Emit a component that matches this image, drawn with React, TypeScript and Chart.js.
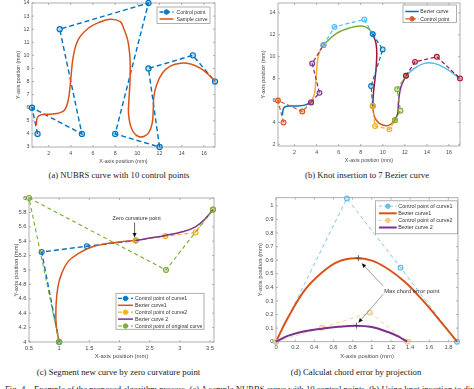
import React, { useEffect, useRef } from 'react';
import { Chart, registerables } from 'chart.js';
Chart.register(...registerables);

type P = [number, number];

// ---------- (a) NURBS curve ----------
const aCtrl: P[] = [[1, 4], [0.5, 6], [5, 4], [3, 12], [11, 14], [8, 4], [12, 3], [11, 9], [15, 10], [17, 8]];
const aCurve: P[] = [[0.9, 4.68], [0.93, 5.1], [1.08, 5.36], [1.5, 5.48], [2.1, 5.5], [2.85, 5.58], [3.45, 5.83], [3.77, 6.6], [3.93, 7.6], [4.02, 8.4], [4.22, 9.9], [4.67, 11.2], [5.57, 12.07], [6.5, 12.5], [7.55, 12.75], [8.45, 12.57], [8.76, 12.07], [9.12, 11.2], [9.3, 10.16], [9.36, 9.14], [9.33, 7.87], [9.24, 6.6], [9.2, 5.58], [9.36, 4.69], [9.67, 4.1], [10.1, 3.8], [10.58, 3.8], [11.03, 4.1], [11.34, 4.82], [11.43, 5.83], [11.49, 6.85], [11.73, 7.74], [12.25, 8.63], [13.0, 9.19], [13.9, 9.4], [14.8, 9.34], [15.7, 9.01], [16.45, 8.5], [17, 8.05]];
const aXTicks = [2, 4, 6, 8, 10, 12, 14, 16];
const aXLabels = ['2', '4', '6', '8', '10', '12', '14', '16'];
const aYTicks = [3, 4, 5, 6, 7, 8, 9, 10, 11, 12, 13, 14];
const aYLabels = ['3', '4', '5', '6', '7', '8', '9', '10', '11', '12', '13', '14'];

// ---------- (b) 7 Bezier segments ----------
const bCtrl1: P[] = [[1, 4], [0.5, 6], [2.7, 5], [3.5, 5.83]];
const bCurve1: P[] = [[0.9, 4.67], [0.95, 5.1], [1.07, 5.38], [1.4, 5.49], [2.15, 5.5], [2.9, 5.58], [3.5, 5.83]];
const bCtrl2: P[] = [[3.5, 5.83], [4.26, 6.7], [3.6, 9.39], [4.62, 11.06]];
const bCurve2: P[] = [[3.5, 5.83], [3.81, 6.65], [3.96, 8.17], [4.11, 9.84], [4.33, 10.6], [4.62, 11.06]];
const bCtrl3: P[] = [[4.62, 11.06], [5.62, 12.72], [8.33, 13.4], [9.09, 12.06]];
const bCurve3: P[] = [[4.62, 11.06], [5.8, 12.12], [7.0, 12.63], [8.06, 12.79], [8.67, 12.58], [9.09, 12.06]];
const bCtrl4: P[] = [[9.09, 12.06], [9.99, 10.66], [8.94, 7.32], [9.09, 5.5]];
const bCurve4: P[] = [[9.09, 12.06], [9.39, 11.2], [9.45, 10.0], [9.35, 8.5], [9.15, 6.65], [9.09, 5.5]];
const bCtrl5: P[] = [[9.09, 5.5], [9.3, 3.67], [10.6, 3.37], [11.1, 4.2]];
const bCurve5: P[] = [[9.09, 5.5], [9.24, 4.52], [9.69, 3.92], [10.3, 3.7], [10.75, 3.85], [11.1, 4.2]];
const bCtrl6: P[] = [[11.1, 4.2], [11.6, 5.07], [11.3, 7.04], [12.1, 8.26]];
const bCurve6: P[] = [[11.1, 4.2], [11.35, 4.83], [11.44, 6.04], [11.65, 7.25], [12.1, 8.26]];
const bCtrl7: P[] = [[12.1, 8.26], [12.92, 9.53], [14.9, 9.99], [17, 8.02]];
const bCurve7: P[] = [[12.1, 8.26], [12.86, 8.93], [13.76, 9.39], [14.67, 9.39], [15.7, 8.93], [17, 8.02]];
const bXTicks = [2, 4, 6, 8, 10, 12, 14, 16];
const bXLabels = ['2', '4', '6', '8', '10', '12', '14', '16'];
const bYTicks = [2, 4, 6, 8, 10, 12, 14];
const bYLabels = ['2', '4', '6', '8', '10', '12', '14'];

// ---------- (c) split at zero curvature ----------
const cOrigCtrl: P[] = [[1, 4], [0.5, 6], [2.77, 5.0], [3.55, 5.84]];
const cCtrl1: P[] = [[1, 4], [0.71, 5.25], [1.46, 5.33], [2.27, 5.41]];
const cCurve1: P[] = [[1, 4], [0.95, 4.25], [0.95, 4.53], [0.98, 4.77], [1.04, 4.95], [1.15, 5.12], [1.32, 5.23], [1.54, 5.32], [1.82, 5.37], [2.1, 5.4], [2.27, 5.41]];
const cCtrl2: P[] = [[2.27, 5.41], [2.76, 5.47], [3.26, 5.52], [3.55, 5.84]];
const cCurve2: P[] = [[2.27, 5.41], [2.48, 5.44], [2.76, 5.48], [3.04, 5.53], [3.26, 5.6], [3.42, 5.71], [3.55, 5.84]];
const cXTicks = [0.5, 1, 1.5, 2, 2.5, 3, 3.5];
const cXLabels = ['0.5', '1', '1.5', '2', '2.5', '3', '3.5'];
const cYTicks = [4, 4.2, 4.4, 4.6, 4.8, 5, 5.2, 5.4, 5.6, 5.8, 6];
const cYLabels = ['4', '4.2', '4.4', '4.6', '4.8', '5', '5.2', '5.4', '5.6', '5.8', '6'];

// ---------- (d) chord error ----------
const dCtrl1: P[] = [[0, 0], [0.74, 1.055], [1.3, 0.545], [1.89, 0]];
const dCurve1: P[] = [[0, 0], [0.12, 0.17], [0.3, 0.38], [0.48, 0.51], [0.65, 0.59], [0.83, 0.614], [1.0, 0.597], [1.17, 0.535], [1.35, 0.437], [1.52, 0.313], [1.7, 0.165], [1.89, 0]];
const dCtrl2: P[] = [[0, 0], [0.48, 0.103], [0.98, 0.214], [1.37, 0]];
const dCurve2: P[] = [[0, 0], [0.13, 0.045], [0.3, 0.077], [0.48, 0.096], [0.65, 0.11], [0.83, 0.118], [1.0, 0.108], [1.17, 0.071], [1.28, 0.037], [1.37, 0]];
const dMaxErr: P[] = [[0.86, 0.615], [0.84, 0.118]];
const dXTicks = [0, 0.2, 0.4, 0.6, 0.8, 1, 1.2, 1.4, 1.6, 1.8];
const dXLabels = ['0', '0.2', '0.4', '0.6', '0.8', '1', '1.2', '1.4', '1.6', '1.8'];
const dYTicks = [0, 0.1, 0.2, 0.3, 0.4, 0.5, 0.6, 0.7, 0.8, 0.9, 1];
const dYLabels = ['0', '0.1', '0.2', '0.3', '0.4', '0.5', '0.6', '0.7', '0.8', '0.9', '1'];

// ---------- styles ----------
const BLUE = '#0072BD', RED = '#D95319', YEL = '#EDB120', PUR = '#7E2F8E', GRN = '#77AC30', CYAN = '#4DBEEE', DRED = '#A2142F';
const LBLUE = '#62B8E4', LORANGE = '#F0C680';
const SANS = '"Liberation Sans", Arial, sans-serif';
const TXT = '#4a4a4a';
const AXC = '#9c9c9c';

const xy = (pts: P[]) => pts.map(([x, y]) => ({ x, y }));
function alpha(hex: string, a: number) {
  const n = parseInt(hex.slice(1), 16);
  return `rgba(${(n >> 16) & 255},${(n >> 8) & 255},${n & 255},${a})`;
}
function ctrlDs(pts: P[], color: string, w: number, dash: number[], r: number) {
  return {
    data: xy(pts), showLine: true, borderColor: color, borderWidth: w, borderDash: dash, tension: 0,
    pointRadius: r, pointBorderWidth: 1.1, pointBorderColor: color, pointBackgroundColor: alpha(color, 0.25),
    pointStyle: 'circle', clip: 8,
  };
}
function curveDs(pts: P[], color: string, w: number) {
  return { data: xy(pts), showLine: true, borderColor: color, borderWidth: w, tension: 0.4, pointRadius: 0, clip: 8 };
}

type LegendItem = { label: string; color: string; width: number; dash: number[]; marker: boolean };
type Spec = {
  xMin: number; xMax: number; yMin: number; yMax: number;
  xTicks: number[]; xLabels: string[]; yTicks: number[]; yLabels: string[];
  yAxisW: number; xAxisH: number; padTop: number; padRight: number;
  tickSize: number; titleSize: number; xPad: number;
  xTitle: P; yTitle: P;
  legend: { x: number; y: number; w: number; h: number; firstY: number; rowH: number; lx0: number; lx1: number; tx: number; size: number; items: LegendItem[] };
  texts: { at: P; text: string; size: number }[];
  arrows: { from: P; to: P; color: string }[];
  datasets: any[];
};

function overlay(s: Spec) {
  return {
    id: 'mlOverlay',
    beforeDatasetsDraw(chart: any) {
      const ctx = chart.ctx;
      const { left, top, right, bottom } = chart.chartArea;
      const xs = chart.scales.x, ys = chart.scales.y;
      ctx.save();
      ctx.strokeStyle = AXC; ctx.lineWidth = 0.8; ctx.setLineDash([]);
      ctx.strokeRect(left, top, right - left, bottom - top);
      ctx.beginPath();
      for (const v of s.xTicks) {
        const px = xs.getPixelForValue(v);
        ctx.moveTo(px, bottom); ctx.lineTo(px, bottom - 2);
        ctx.moveTo(px, top); ctx.lineTo(px, top + 2);
      }
      for (const v of s.yTicks) {
        const py = ys.getPixelForValue(v);
        ctx.moveTo(left, py); ctx.lineTo(left + 2, py);
        ctx.moveTo(right, py); ctx.lineTo(right - 2, py);
      }
      ctx.stroke();
      ctx.restore();
    },
    afterDatasetsDraw(chart: any) {
      const ctx = chart.ctx;
      const xs = chart.scales.x, ys = chart.scales.y;
      ctx.save();
      // axis titles
      ctx.fillStyle = TXT;
      ctx.font = `${s.titleSize}px ${SANS}`;
      ctx.textAlign = 'center'; ctx.textBaseline = 'middle';
      ctx.fillText('X-axis position (mm)', s.xTitle[0], s.xTitle[1]);
      ctx.save();
      ctx.translate(s.yTitle[0], s.yTitle[1]);
      ctx.rotate(-Math.PI / 2);
      ctx.fillText('Y-axis position (mm)', 0, 0);
      ctx.restore();
      // arrows
      for (const a of s.arrows) {
        const x1 = xs.getPixelForValue(a.from[0]), y1 = ys.getPixelForValue(a.from[1]);
        const x2 = xs.getPixelForValue(a.to[0]), y2 = ys.getPixelForValue(a.to[1]);
        const ang = Math.atan2(y2 - y1, x2 - x1);
        const hl = 4.5, hw = 2;
        const bx = x2 - hl * Math.cos(ang), by = y2 - hl * Math.sin(ang);
        ctx.strokeStyle = a.color; ctx.lineWidth = 0.7; ctx.setLineDash([]);
        ctx.beginPath(); ctx.moveTo(x1, y1); ctx.lineTo(bx, by); ctx.stroke();
        ctx.fillStyle = '#111';
        ctx.beginPath();
        ctx.moveTo(x2, y2);
        ctx.lineTo(bx + hw * Math.sin(ang), by - hw * Math.cos(ang));
        ctx.lineTo(bx - hw * Math.sin(ang), by + hw * Math.cos(ang));
        ctx.closePath(); ctx.fill();
      }
      // annotation texts
      for (const t of s.texts) {
        ctx.fillStyle = '#333';
        ctx.font = `${t.size}px ${SANS}`;
        ctx.textAlign = 'center'; ctx.textBaseline = 'middle';
        ctx.fillText(t.text, xs.getPixelForValue(t.at[0]), ys.getPixelForValue(t.at[1]));
      }
      // legend
      const L = s.legend;
      ctx.fillStyle = '#fff';
      ctx.fillRect(L.x, L.y, L.w, L.h);
      ctx.strokeStyle = AXC; ctx.lineWidth = 0.8;
      ctx.strokeRect(L.x, L.y, L.w, L.h);
      L.items.forEach((it, i) => {
        const y = L.firstY + i * L.rowH;
        ctx.save();
        ctx.strokeStyle = it.color; ctx.lineWidth = it.width; ctx.setLineDash(it.dash);
        ctx.beginPath(); ctx.moveTo(L.lx0, y); ctx.lineTo(L.lx1, y); ctx.stroke();
        ctx.restore();
        if (it.marker) {
          ctx.beginPath();
          ctx.arc((L.lx0 + L.lx1) / 2, y, 2.2, 0, Math.PI * 2);
          ctx.fillStyle = alpha(it.color, 0.9); ctx.fill();
          ctx.strokeStyle = it.color; ctx.lineWidth = 1; ctx.setLineDash([]); ctx.stroke();
        }
        ctx.fillStyle = '#333';
        ctx.font = `${L.size}px ${SANS}`;
        ctx.textAlign = 'left'; ctx.textBaseline = 'middle';
        ctx.fillText(it.label, L.tx, y + 0.3);
      });
      ctx.restore();
    },
  };
}

function makeChart(canvas: HTMLCanvasElement, s: Spec) {
  const n = s.datasets.length;
  const tickFont = { size: s.tickSize, family: SANS };
  return new Chart(canvas, {
    type: 'scatter',
    data: { datasets: s.datasets.map((d, i) => ({ ...d, order: n - i })) },
    options: {
      animation: false,
      responsive: false,
      maintainAspectRatio: false,
      events: [],
      layout: { padding: { left: 0, top: s.padTop, right: s.padRight, bottom: 0 }, autoPadding: false },
      plugins: { legend: { display: false }, tooltip: { enabled: false } },
      scales: {
        x: {
          type: 'linear', min: s.xMin, max: s.xMax, bounds: 'data',
          grid: { display: false, drawTicks: false }, border: { display: false },
          ticks: { autoSkip: false, maxRotation: 0, padding: s.xPad, color: TXT, font: tickFont, callback: (_v: any, i: number) => s.xLabels[i] },
          afterBuildTicks: (sc: any) => { sc.ticks = s.xTicks.map((v) => ({ value: v })); },
          afterFit: (sc: any) => { sc.height = s.xAxisH; sc.paddingLeft = 0; sc.paddingRight = 0; },
        },
        y: {
          type: 'linear', min: s.yMin, max: s.yMax, bounds: 'data',
          grid: { display: false, drawTicks: false }, border: { display: false },
          ticks: { autoSkip: false, padding: 2.5, color: TXT, font: tickFont, callback: (_v: any, i: number) => s.yLabels[i] },
          afterBuildTicks: (sc: any) => { sc.ticks = s.yTicks.map((v) => ({ value: v })); },
          afterFit: (sc: any) => { sc.width = s.yAxisW; sc.paddingTop = 0; sc.paddingBottom = 0; },
        },
      },
    } as any,
    plugins: [overlay(s) as any],
  });
}

const specA: Spec = {
  xMin: 0.5, xMax: 17, yMin: 3, yMax: 14,
  xTicks: aXTicks, xLabels: aXLabels, yTicks: aYTicks, yLabels: aYLabels,
  yAxisW: 32, xAxisH: 21, padTop: 3, padRight: 22, tickSize: 5.3, titleSize: 5.3, xPad: 3,
  xTitle: [123.5, 161.7], yTitle: [19, 75],
  legend: {
    x: 157, y: 7, w: 53, h: 16.5, firstY: 12, rowH: 7, lx0: 159.5, lx1: 173.5, tx: 176.5, size: 5.1,
    items: [
      { label: 'Control point', color: BLUE, width: 1.4, dash: [4, 2.5], marker: true },
      { label: 'Sample curve', color: RED, width: 1.5, dash: [], marker: false },
    ],
  },
  texts: [], arrows: [],
  datasets: [ctrlDs(aCtrl, BLUE, 1.4, [5, 3], 2.6), curveDs(aCurve, RED, 1.5)],
};

const bCurves = [bCurve1, bCurve2, bCurve3, bCurve4, bCurve5, bCurve6, bCurve7];
const bCtrls = [bCtrl1, bCtrl2, bCtrl3, bCtrl4, bCtrl5, bCtrl6, bCtrl7];
const bCurveColors = [BLUE, YEL, GRN, DRED, RED, PUR, CYAN];
const bCtrlColors = [RED, PUR, CYAN, BLUE, YEL, GRN, DRED];
const bDatasets: any[] = [];
bCurves.forEach((c, i) => {
  bDatasets.push(curveDs(c, bCurveColors[i], 1.5));
  bDatasets.push(ctrlDs(bCtrls[i], bCtrlColors[i], 1.2, [4, 2.5], 2.4));
});

const specB: Spec = {
  xMin: 0.5, xMax: 17, yMin: 1.85, yMax: 14.9,
  xTicks: bXTicks, xLabels: bXLabels, yTicks: bYTicks, yLabels: bYLabels,
  yAxisW: 41, xAxisH: 22, padTop: 3, padRight: 14, tickSize: 5.3, titleSize: 5.3, xPad: 3,
  xTitle: [132, 160.7], yTitle: [26.7, 74.5],
  legend: {
    x: 166, y: 5, w: 53.5, h: 17.5, firstY: 11.5, rowH: 7.3, lx0: 168.3, lx1: 181.7, tx: 183.3, size: 5.1,
    items: [
      { label: 'Bezier curve', color: BLUE, width: 1.5, dash: [], marker: false },
      { label: 'Control point', color: RED, width: 1.2, dash: [4, 2.5], marker: true },
    ],
  },
  texts: [], arrows: [],
  datasets: bDatasets,
};

const specC: Spec = {
  xMin: 0.5, xMax: 3.566, yMin: 4, yMax: 6,
  xTicks: cXTicks, xLabels: cXLabels, yTicks: cYTicks, yLabels: cYLabels,
  yAxisW: 29, xAxisH: 24, padTop: 12, padRight: 23, tickSize: 5.8, titleSize: 5.9, xPad: 2.5,
  xTitle: [121.5, 170], yTitle: [16, 84],
  legend: {
    x: 116, y: 107.3, w: 88, h: 36, firstY: 112.4, rowH: 6.9, lx0: 118, lx1: 133, tx: 135, size: 5.2,
    items: [
      { label: 'Control point of curve1', color: BLUE, width: 1.4, dash: [4, 2.5], marker: true },
      { label: 'Bezier curve1', color: RED, width: 1.5, dash: [], marker: false },
      { label: 'Control point of curve2', color: YEL, width: 1.2, dash: [4, 2.5], marker: true },
      { label: 'Bezier curve 2', color: PUR, width: 1.5, dash: [], marker: false },
      { label: 'Control point of original curve', color: GRN, width: 1.2, dash: [4, 2.5], marker: true },
    ],
  },
  texts: [{ at: [2.285, 5.71], text: 'Zero curvature point', size: 5.4 }],
  arrows: [{ from: [2.25, 5.66], to: [2.25, 5.45], color: '#222' }],
  datasets: [
    ctrlDs(cCtrl1, BLUE, 1.4, [5, 3], 2.5),
    curveDs(cCurve1, RED, 1.5),
    ctrlDs(cCtrl2, YEL, 1.2, [4, 3], 2.5),
    curveDs(cCurve2, PUR, 1.5),
    ctrlDs(cOrigCtrl, GRN, 1.1, [4, 3], 2.5),
  ],
};

const specD: Spec = {
  xMin: 0, xMax: 1.9, yMin: 0, yMax: 1.06,
  xTicks: dXTicks, xLabels: dXLabels, yTicks: dYTicks, yLabels: dYLabels,
  yAxisW: 39, xAxisH: 24.3, padTop: 11.7, padRight: 16, tickSize: 5.8, titleSize: 5.9, xPad: 2.5,
  xTitle: [130, 170], yTitle: [23.8, 83.7],
  legend: {
    x: 138.5, y: 14.8, w: 82, h: 33, firstY: 20.2, rowH: 7.1, lx0: 142, lx1: 159.7, tx: 161.3, size: 5.4,
    items: [
      { label: 'Control point of curve1', color: LBLUE, width: 0.8, dash: [3, 2.5], marker: true },
      { label: 'Bezier curve1', color: RED, width: 2, dash: [], marker: false },
      { label: 'Control point of curve2', color: LORANGE, width: 0.8, dash: [3, 2.5], marker: true },
      { label: 'Bezier curve 2', color: PUR, width: 2, dash: [], marker: false },
    ],
  },
  texts: [{ at: [1.417, 0.373], text: 'Max chord error point', size: 5.8 }],
  arrows: [
    { from: [1.12, 0.41], to: [0.895, 0.577], color: '#777' },
    { from: [1.12, 0.35], to: [0.86, 0.14], color: '#777' },
  ],
  datasets: [
    ctrlDs(dCtrl1, LBLUE, 0.8, [4, 3], 2.4),
    curveDs(dCurve1, RED, 2),
    ctrlDs(dCtrl2, LORANGE, 0.8, [4, 3], 2.4),
    curveDs(dCurve2, PUR, 2),
    { data: xy(dMaxErr), showLine: false, pointStyle: 'cross', pointRadius: 3, pointBorderWidth: 0.8, pointBorderColor: '#444', clip: 8 },
  ],
};

const capStyle = (cx: number, cy: number): React.CSSProperties => ({
  position: 'absolute', left: cx - 150, top: cy - 6, width: 300, height: 12, lineHeight: '12px',
  textAlign: 'center', fontFamily: '"Liberation Serif", "Times New Roman", serif', fontSize: '8.7px', color: '#222', whiteSpace: 'nowrap',
});

export default function App() {
  const ra = useRef<HTMLCanvasElement>(null);
  const rb = useRef<HTMLCanvasElement>(null);
  const rc = useRef<HTMLCanvasElement>(null);
  const rd = useRef<HTMLCanvasElement>(null);
  useEffect(() => {
    const charts = [
      makeChart(ra.current!, specA),
      makeChart(rb.current!, specB),
      makeChart(rc.current!, specC),
      makeChart(rd.current!, specD),
    ];
    return () => charts.forEach((c) => c.destroy());
  }, []);
  const cv = (l: number, t: number, w: number, h: number): React.CSSProperties => ({ position: 'absolute', left: l, top: t, width: w, height: h });
  return (
    <div style={{ position: 'absolute', left: 0, top: 0, width: 474, height: 389, overflow: 'hidden', background: '#fff' }}>
      <canvas ref={ra} width={237} height={168} style={cv(0, 0, 237, 168)} />
      <canvas ref={rb} width={237} height={168} style={cv(237, 0, 237, 168)} />
      <canvas ref={rc} width={237} height={180} style={cv(0, 186, 237, 180)} />
      <canvas ref={rd} width={237} height={180} style={cv(237, 186, 237, 180)} />
      <div style={capStyle(119, 175)}>(a) NUBRS curve with 10 control points</div>
      <div style={capStyle(367, 175)}>(b) Knot insertion to 7 Bezier curve</div>
      <div style={capStyle(118.5, 371.5)}>(c) Segment new curve by zero curvature point</div>
      <div style={capStyle(356, 371.5)}>(d) Calculat chord error by projection</div>
      <div style={{ position: 'absolute', left: 5, top: 382.5, whiteSpace: 'nowrap', fontFamily: '"Liberation Serif", "Times New Roman", serif', fontSize: '8.7px', color: '#222', lineHeight: '12px' }}>
        Fig. 4.&nbsp;&nbsp; Example of the proposed algorithm process. (a) A sample NURBS curve with 10 control points. (b) Using knot insertion to divide the NURBS
      </div>
    </div>
  );
}
